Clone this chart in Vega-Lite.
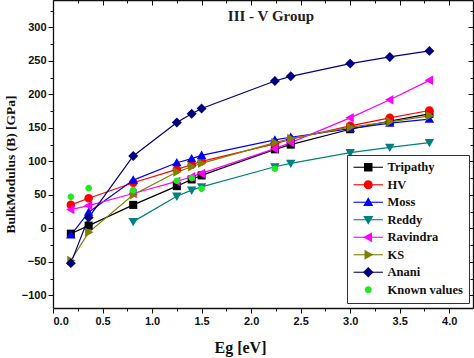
{
  "$schema": "https://vega.github.io/schema/vega-lite/v6.json",
  "width": 420,
  "height": 308,
  "autosize": {"type": "none"},
  "padding": {"left": 53, "top": 0, "right": 1, "bottom": 50},
  "background": "white",
  "title": {"text": "III - V Group", "font": "Liberation Serif", "fontSize": 15, "fontWeight": "bold", "color": "#222", "anchor": "middle", "frame": "group", "offset": -24, "dx": 8},
  "config": {
    "view": {"stroke": null},
    "axis": {"grid": false, "domainColor": "#111", "domainWidth": 1.3, "tickColor": "#111", "tickWidth": 1, "labelColor": "#111", "labelFont": "Liberation Sans", "labelFontWeight": "bold", "labelFontSize": 11, "titleFont": "Liberation Serif", "titleFontWeight": "bold", "titleColor": "#111"}
  },
  "data": {"values": [
    {"s": "Tripathy", "x": 0.18, "y": -8}, {"s": "Tripathy", "x": 0.36, "y": 4}, {"s": "Tripathy", "x": 0.81, "y": 35}, {"s": "Tripathy", "x": 1.25, "y": 63}, {"s": "Tripathy", "x": 1.4, "y": 73}, {"s": "Tripathy", "x": 1.5, "y": 79}, {"s": "Tripathy", "x": 2.24, "y": 118}, {"s": "Tripathy", "x": 2.4, "y": 125}, {"s": "Tripathy", "x": 3.0, "y": 148}, {"s": "Tripathy", "x": 3.4, "y": 160}, {"s": "Tripathy", "x": 3.8, "y": 171},
    {"s": "HV", "x": 0.18, "y": 35}, {"s": "HV", "x": 0.36, "y": 45}, {"s": "HV", "x": 0.81, "y": 68}, {"s": "HV", "x": 1.25, "y": 88}, {"s": "HV", "x": 1.4, "y": 95}, {"s": "HV", "x": 1.5, "y": 100}, {"s": "HV", "x": 2.24, "y": 126}, {"s": "HV", "x": 2.4, "y": 133}, {"s": "HV", "x": 3.0, "y": 153}, {"s": "HV", "x": 3.4, "y": 165}, {"s": "HV", "x": 3.8, "y": 176},
    {"s": "Moss", "x": 0.18, "y": -10}, {"s": "Moss", "x": 0.36, "y": 24}, {"s": "Moss", "x": 0.81, "y": 72}, {"s": "Moss", "x": 1.25, "y": 98}, {"s": "Moss", "x": 1.4, "y": 104}, {"s": "Moss", "x": 1.5, "y": 109}, {"s": "Moss", "x": 2.24, "y": 132}, {"s": "Moss", "x": 2.4, "y": 136}, {"s": "Moss", "x": 3.0, "y": 149}, {"s": "Moss", "x": 3.4, "y": 157}, {"s": "Moss", "x": 3.8, "y": 163},
    {"s": "Reddy", "x": 0.81, "y": 10}, {"s": "Reddy", "x": 1.25, "y": 48}, {"s": "Reddy", "x": 1.4, "y": 57}, {"s": "Reddy", "x": 1.5, "y": 62}, {"s": "Reddy", "x": 2.24, "y": 92}, {"s": "Reddy", "x": 2.4, "y": 97}, {"s": "Reddy", "x": 3.0, "y": 113}, {"s": "Reddy", "x": 3.4, "y": 121}, {"s": "Reddy", "x": 3.8, "y": 128},
    {"s": "Ravindra", "x": 0.18, "y": 28}, {"s": "Ravindra", "x": 0.36, "y": 34}, {"s": "Ravindra", "x": 0.81, "y": 52}, {"s": "Ravindra", "x": 1.25, "y": 70}, {"s": "Ravindra", "x": 1.4, "y": 77}, {"s": "Ravindra", "x": 1.5, "y": 82}, {"s": "Ravindra", "x": 2.24, "y": 119}, {"s": "Ravindra", "x": 2.4, "y": 128}, {"s": "Ravindra", "x": 3.0, "y": 165}, {"s": "Ravindra", "x": 3.4, "y": 192}, {"s": "Ravindra", "x": 3.8, "y": 221},
    {"s": "KS", "x": 0.18, "y": -48}, {"s": "KS", "x": 0.36, "y": -6}, {"s": "KS", "x": 0.81, "y": 50}, {"s": "KS", "x": 1.25, "y": 84}, {"s": "KS", "x": 1.4, "y": 92}, {"s": "KS", "x": 1.5, "y": 97}, {"s": "KS", "x": 2.24, "y": 128}, {"s": "KS", "x": 2.4, "y": 134}, {"s": "KS", "x": 3.0, "y": 151}, {"s": "KS", "x": 3.4, "y": 159}, {"s": "KS", "x": 3.8, "y": 168},
    {"s": "Anani", "x": 0.18, "y": -52}, {"s": "Anani", "x": 0.36, "y": 16}, {"s": "Anani", "x": 0.81, "y": 108}, {"s": "Anani", "x": 1.25, "y": 158}, {"s": "Anani", "x": 1.4, "y": 171}, {"s": "Anani", "x": 1.5, "y": 179}, {"s": "Anani", "x": 2.24, "y": 220}, {"s": "Anani", "x": 2.4, "y": 227}, {"s": "Anani", "x": 3.0, "y": 246}, {"s": "Anani", "x": 3.4, "y": 256}, {"s": "Anani", "x": 3.8, "y": 265},
    {"s": "Known values", "x": 0.18, "y": 47}, {"s": "Known values", "x": 0.36, "y": 60}, {"s": "Known values", "x": 0.81, "y": 57}, {"s": "Known values", "x": 1.25, "y": 71}, {"s": "Known values", "x": 1.4, "y": 75}, {"s": "Known values", "x": 1.5, "y": 59}, {"s": "Known values", "x": 2.24, "y": 89}, {"s": "Known values", "x": 3.0, "y": 86}
  ]},
  "layer": [
    {
      "transform": [{"filter": "datum.s !== 'Known values'"}],
      "mark": {"type": "line", "strokeWidth": 1.2},
      "encoding": {
        "x": {"field": "x", "type": "quantitative", "scale": {"domain": [0, 4.24], "nice": false, "zero": false},
          "axis": {"orient": "bottom", "values": [0, 0.25, 0.5, 0.75, 1, 1.25, 1.5, 1.75, 2, 2.25, 2.5, 2.75, 3, 3.25, 3.5, 3.75, 4],
            "labelExpr": "datum.value % 0.5 === 0 ? format(datum.value, '.1f') : ''",
            "tickSize": {"condition": {"test": "datum.value % 0.5 !== 0", "value": 3}, "value": 5},
            "labelPadding": 2, "title": "Eg [eV]", "titleFontSize": 16, "titleX": 187, "titleY": 44, "titleBaseline": "alphabetic", "titleAlign": "center"}},
        "y": {"field": "y", "type": "quantitative", "scale": {"domain": [-119, 341], "nice": false, "zero": false},
          "axis": {"orient": "left", "values": [-100, -75, -50, -25, 0, 25, 50, 75, 100, 125, 150, 175, 200, 225, 250, 275, 300, 325],
            "labelExpr": "datum.value % 50 === 0 ? datum.label : ''",
            "tickSize": {"condition": {"test": "datum.value % 50 !== 0", "value": 3}, "value": 5},
            "labelPadding": 2, "title": "BulkModulus (B) [GPa]", "titleFontSize": 13.5, "titleAngle": -90, "titleX": -43, "titleY": 164, "titleBaseline": "middle", "titleAlign": "center"}},
        "color": {"field": "s", "type": "nominal",
          "legend": {"title": null, "orient": "none", "legendX": 294, "legendY": 155, "padding": 6, "zindex": 2,
            "values": ["Tripathy", "HV", "Moss", "Reddy", "Ravindra", "KS", "Anani"],
            "symbolType": "M-3.1,0H3.1", "symbolSize": 90, "symbolStrokeWidth": 1.1,
            "labelFont": "Liberation Serif", "labelFontWeight": "bold", "labelFontSize": 12.5, "labelOpacity": 0,
            "rowPadding": 4.5, "symbolOffset": 9, "labelOffset": 13},
          "scale": {"domain": ["Tripathy", "HV", "Moss", "Reddy", "Ravindra", "KS", "Anani", "Known values"],
                    "range": ["#000000", "#ff0000", "#0000ff", "#008080", "#ff00ff", "#808000", "#000080", "#22e822"]}},
        "detail": {"field": "s"}
      }
    },
    {
      "mark": {"type": "point", "filled": true, "opacity": 1, "size": 90},
      "encoding": {
        "x": {"field": "x", "type": "quantitative",
          "axis": {"orient": "top", "labels": false, "title": null, "values": [0, 0.25, 0.5, 0.75, 1, 1.25, 1.5, 1.75, 2, 2.25, 2.5, 2.75, 3, 3.25, 3.5, 3.75, 4],
            "tickSize": {"condition": {"test": "datum.value % 0.5 !== 0", "value": -3}, "value": -5}}},
        "y": {"field": "y", "type": "quantitative",
          "axis": {"orient": "right", "labels": false, "title": null, "values": [-100, -75, -50, -25, 0, 25, 50, 75, 100, 125, 150, 175, 200, 225, 250, 275, 300, 325],
            "tickSize": {"condition": {"test": "datum.value % 50 !== 0", "value": -3}, "value": -5}}},
        "color": {"field": "s", "type": "nominal",
          "legend": {"title": null, "orient": "none", "legendX": 294, "legendY": 155, "fillColor": "white", "strokeColor": "#333", "padding": 6, "zindex": 1,
            "labelFont": "Liberation Serif", "labelFontWeight": "bold", "labelFontSize": 12.5, "labelColor": "#111", "symbolStrokeWidth": 1.1,
            "rowPadding": 4.5, "symbolOffset": 9, "labelOffset": 13}},
        "shape": {"field": "s", "type": "nominal",
          "legend": {"title": null, "orient": "none", "legendX": 294, "legendY": 155, "fillColor": "white", "strokeColor": "#333", "padding": 6, "zindex": 1,
            "labelFont": "Liberation Serif", "labelFontWeight": "bold", "labelFontSize": 12.5, "labelColor": "#111", "symbolStrokeWidth": 1.1,
            "rowPadding": 4.5, "symbolOffset": 9, "labelOffset": 13},
          "scale": {"domain": ["Tripathy", "HV", "Moss", "Reddy", "Ravindra", "KS", "Anani", "Known values"],
                    "range": ["M-0.85,-0.85H0.85V0.85H-0.85Z", "M-0.9,0A0.9,0.9,0,1,1,0.9,0A0.9,0.9,0,1,1,-0.9,0Z", "M0,-1L1,0.75L-1,0.75Z", "M0,1L1,-0.75L-1,-0.75Z", "M-1,0L0.75,-1L0.75,1Z", "M1,0L-0.75,-1L-0.75,1Z", "M0,-1.05L1.05,0L0,1.05L-1.05,0Z", "M-0.7,0A0.7,0.7,0,1,1,0.7,0A0.7,0.7,0,1,1,-0.7,0Z"]}}
      }
    }
  ],
  "resolve": {"axis": {"x": "independent", "y": "independent"}, "legend": {"color": "independent", "shape": "independent"}}
}
